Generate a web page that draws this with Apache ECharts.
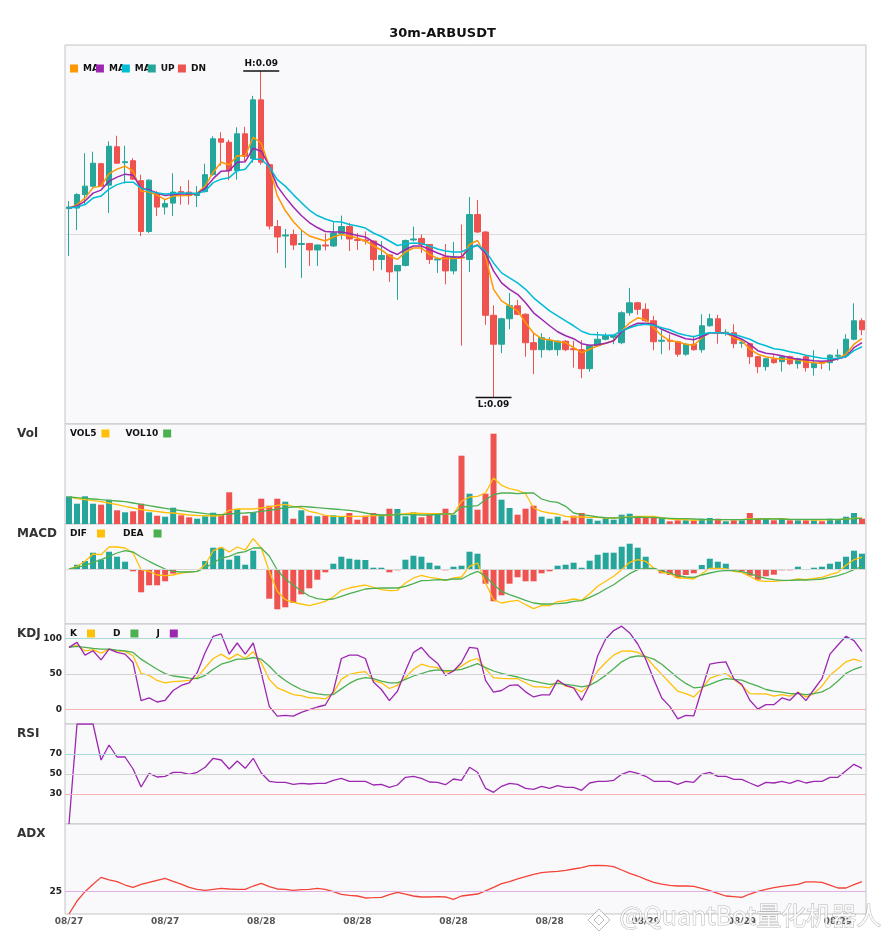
<!DOCTYPE html>
<html>
<head>
<meta charset="utf-8">
<title>30m-ARBUSDT</title>
<script src="https://cdn.jsdelivr.net/npm/echarts@6/dist/echarts.min.js"></script>
<style>
  html, body { margin: 0; padding: 0; background: #fff; }
  #main { width: 885px; height: 950px; }
</style>
</head>
<body>
<div id="main"></div>
<script>
var FONT = 'DejaVu Sans';
var UP_COLOR = '#26a69a';
var DN_COLOR = '#ef5350';

// 30m bars, first one 08/27 14:00
var times = [];
var start = new Date(2023, 7, 27, 14, 0);
for (var t = 0; t < 100; t++) {
  var d = new Date(start.getTime() + t * 30 * 60 * 1000);
  var pad = function (n) { return (n < 10 ? '0' : '') + n; };
  times.push(pad(d.getMonth() + 1) + '/' + pad(d.getDate()) + ' ' + pad(d.getHours()) + ':' + pad(d.getMinutes()));
}

var opens = [0.09172,0.09173,0.09200,0.09217,0.09262,0.09219,0.09296,0.09264,0.09268,0.09228,
  0.09126,0.09203,0.09175,0.09183,0.09206,0.09205,0.09198,0.09206,0.09240,0.09312,
  0.09305,0.09248,0.09322,0.09272,0.09390,0.09260,0.09136,0.09117,0.09120,0.09100,
  0.09102,0.09089,0.09099,0.09097,0.09122,0.09136,0.09110,0.09109,0.09107,0.09070,
  0.09079,0.09047,0.09058,0.09109,0.09112,0.09100,0.09069,0.09075,0.09047,0.09075,
  0.09070,0.09160,0.09125,0.08958,0.08900,0.08951,0.08977,0.08960,0.08903,0.08889,
  0.08889,0.08889,0.08906,0.08891,0.08889,0.08851,0.08897,0.08910,0.08914,0.08903,
  0.08963,0.08983,0.08970,0.08947,0.08906,0.08908,0.08905,0.08880,0.08900,0.08889,
  0.08937,0.08951,0.08922,0.08923,0.08902,0.08901,0.08875,0.08855,0.08870,0.08865,
  0.08875,0.08861,0.08875,0.08853,0.08864,0.08863,0.08876,0.08877,0.08910,0.08947];
var closes = [0.09175,0.09200,0.09217,0.09263,0.09217,0.09297,0.09263,0.09266,0.09231,0.09126,
  0.09229,0.09175,0.09182,0.09205,0.09204,0.09198,0.09203,0.09240,0.09312,0.09305,
  0.09248,0.09322,0.09277,0.09390,0.09265,0.09137,0.09115,0.09119,0.09099,0.09102,
  0.09089,0.09099,0.09097,0.09123,0.09136,0.09111,0.09108,0.09107,0.09070,0.09078,
  0.09045,0.09058,0.09108,0.09111,0.09100,0.09070,0.09071,0.09047,0.09075,0.09073,
  0.09160,0.09125,0.08958,0.08900,0.08951,0.08977,0.08960,0.08903,0.08889,0.08913,
  0.08907,0.08906,0.08889,0.08889,0.08851,0.08897,0.08910,0.08917,0.08918,0.08963,
  0.08983,0.08970,0.08947,0.08905,0.08908,0.08906,0.08880,0.08900,0.08889,0.08937,
  0.08951,0.08923,0.08924,0.08901,0.08904,0.08875,0.08855,0.08871,0.08863,0.08875,
  0.08861,0.08871,0.08853,0.08862,0.08862,0.08878,0.08878,0.08910,0.08947,0.08929];
var lows = [0.09077,0.09129,0.09180,0.09215,0.09216,0.09163,0.09262,0.09222,0.09230,0.09117,
  0.09123,0.09157,0.09160,0.09157,0.09180,0.09180,0.09175,0.09204,0.09238,0.09258,
  0.09229,0.09230,0.09266,0.09264,0.09260,0.09130,0.09083,0.09053,0.09089,0.09033,
  0.09057,0.09057,0.09088,0.09095,0.09110,0.09087,0.09089,0.09100,0.09047,0.09049,
  0.09025,0.08989,0.09056,0.09106,0.09083,0.09061,0.09043,0.09020,0.09040,0.08897,
  0.09045,0.09123,0.08939,0.08793,0.08882,0.08930,0.08958,0.08875,0.08840,0.08873,
  0.08887,0.08877,0.08886,0.08853,0.08832,0.08845,0.08895,0.08908,0.08900,0.08900,
  0.08957,0.08959,0.08945,0.08888,0.08880,0.08888,0.08875,0.08877,0.08887,0.08883,
  0.08935,0.08901,0.08917,0.08892,0.08893,0.08860,0.08842,0.08847,0.08861,0.08845,
  0.08858,0.08851,0.08845,0.08837,0.08850,0.08847,0.08867,0.08875,0.08908,0.08918];
var highs = [0.09187,0.09203,0.09283,0.09286,0.09263,0.09307,0.09318,0.09298,0.09273,0.09240,
  0.09231,0.09207,0.09190,0.09243,0.09217,0.09229,0.09217,0.09262,0.09317,0.09325,
  0.09310,0.09335,0.09336,0.09398,0.09448,0.09262,0.09149,0.09131,0.09130,0.09130,
  0.09103,0.09100,0.09122,0.09145,0.09158,0.09143,0.09123,0.09126,0.09108,0.09107,
  0.09080,0.09059,0.09110,0.09136,0.09120,0.09101,0.09074,0.09101,0.09105,0.09140,
  0.09195,0.09189,0.09127,0.08978,0.08953,0.09003,0.08989,0.08962,0.08922,0.08922,
  0.08914,0.08908,0.08908,0.08907,0.08908,0.08899,0.08925,0.08922,0.08919,0.08966,
  0.09013,0.08985,0.08982,0.08957,0.08930,0.08920,0.08907,0.08902,0.08917,0.08960,
  0.08961,0.08959,0.08930,0.08940,0.08910,0.08903,0.08876,0.08873,0.08878,0.08877,
  0.08877,0.08873,0.08877,0.08888,0.08866,0.08880,0.08890,0.08920,0.08982,0.08952];

var ma5 = [0.09173,0.09180,0.09193,0.09214,0.09217,0.09242,0.09251,0.09257,0.09247,0.09207,
  0.09205,0.09199,0.09190,0.09197,0.09198,0.09198,0.09203,0.09217,0.09245,0.09265,
  0.09260,0.09278,0.09278,0.09315,0.09303,0.09257,0.09198,0.09168,0.09146,0.09129,
  0.09117,0.09112,0.09107,0.09115,0.09120,0.09117,0.09113,0.09107,0.09097,0.09089,
  0.09077,0.09070,0.09085,0.09093,0.09093,0.09080,0.09072,0.09072,0.09072,0.09073,
  0.09100,0.09108,0.09077,0.09010,0.08987,0.08977,0.08967,0.08943,0.08922,0.08911,
  0.08909,0.08905,0.08903,0.08893,0.08883,0.08890,0.08897,0.08902,0.08907,0.08927,
  0.08943,0.08953,0.08949,0.08933,0.08917,0.08907,0.08905,0.08900,0.08898,0.08913,
  0.08923,0.08923,0.08923,0.08913,0.08907,0.08890,0.08880,0.08875,0.08872,0.08870,
  0.08870,0.08869,0.08865,0.08863,0.08862,0.08867,0.08871,0.08880,0.08900,0.08911];
var ma10 = [0.09173,0.09177,0.09187,0.09203,0.09209,0.09227,0.09235,0.09241,0.09239,0.09213,
  0.09210,0.09203,0.09198,0.09200,0.09201,0.09201,0.09202,0.09213,0.09232,0.09247,
  0.09248,0.09265,0.09266,0.09293,0.09287,0.09258,0.09217,0.09195,0.09175,0.09158,
  0.09144,0.09134,0.09126,0.09125,0.09125,0.09122,0.09118,0.09115,0.09105,0.09097,
  0.09087,0.09080,0.09090,0.09097,0.09097,0.09090,0.09083,0.09077,0.09075,0.09075,
  0.09093,0.09099,0.09082,0.09047,0.09023,0.09010,0.09000,0.08983,0.08963,0.08950,
  0.08937,0.08925,0.08917,0.08911,0.08901,0.08898,0.08899,0.08902,0.08907,0.08925,
  0.08935,0.08942,0.08942,0.08940,0.08930,0.08923,0.08917,0.08911,0.08909,0.08915,
  0.08923,0.08923,0.08922,0.08917,0.08910,0.08900,0.08887,0.08882,0.08880,0.08877,
  0.08873,0.08870,0.08869,0.08867,0.08866,0.08867,0.08871,0.08875,0.08893,0.08903];
var ma20 = [0.09173,0.09175,0.09180,0.09193,0.09197,0.09211,0.09220,0.09225,0.09225,0.09213,
  0.09207,0.09203,0.09201,0.09202,0.09203,0.09203,0.09202,0.09207,0.09224,0.09231,
  0.09234,0.09248,0.09251,0.09271,0.09271,0.09256,0.09230,0.09217,0.09200,0.09184,
  0.09169,0.09158,0.09151,0.09146,0.09145,0.09140,0.09137,0.09133,0.09123,0.09116,
  0.09107,0.09098,0.09101,0.09103,0.09102,0.09097,0.09091,0.09087,0.09085,0.09085,
  0.09093,0.09098,0.09087,0.09063,0.09043,0.09033,0.09023,0.09010,0.08993,0.08980,
  0.08967,0.08957,0.08947,0.08937,0.08926,0.08920,0.08919,0.08918,0.08918,0.08927,
  0.08933,0.08938,0.08940,0.08938,0.08933,0.08929,0.08922,0.08918,0.08915,0.08920,
  0.08923,0.08923,0.08922,0.08920,0.08915,0.08910,0.08902,0.08897,0.08891,0.08889,
  0.08885,0.08882,0.08878,0.08875,0.08872,0.08871,0.08872,0.08875,0.08887,0.08895];

// volume, in thousands
var vols = [27.7,20.3,27.7,20.3,19.3,24.3,13.7,11.7,12.7,20.3,
  11.7,8.3,7.3,16.3,8.7,6.7,5.3,7.7,11.3,9,
  31.7,15,8.3,11.7,25.3,18.3,25.3,22.3,5.3,13.7,
  8.3,7.7,8.3,8.7,7.7,11,4.3,8.3,11,9.3,
  15.3,15,7.7,11.7,6.7,9.3,11,15.3,9.3,68.3,
  30.3,14.3,30.3,90.3,24.3,16,9.3,15.3,18.3,7.3,
  5.3,7.3,3.3,8.3,11,5.3,3.3,6.7,4.3,9.3,
  10.3,6.7,6.7,7.7,6.7,2.7,3.7,3.7,3.7,5.3,
  6,5.3,2.7,3.7,3.7,11,6,6,3.7,6,
  3.7,3.7,3.7,3.7,2.7,5.3,4.3,7.3,11,5.3];
var vol5 = [27,25.3,24.3,23.3,22.3,21,19.3,17.7,16,14.3,
  13.5,12.5,11.5,11,10,9,8.5,8.3,8,8.3,
  13.7,15,15,15,16,17,18.7,19.7,17.7,16,
  12.7,11,8.7,7.7,7.7,7.7,7.7,7.7,8.3,8.3,
  9,9.7,10.3,11,10.7,10.3,10.3,10,10,22.7,
  27,27.7,31,46,38.7,35.3,33.7,30.3,16,12.7,
  11,10,7.7,7,7,6.7,6.7,6,6,6.7,
  7,7.7,7.7,7.7,6,5,4.3,4.3,3.7,4.3,
  4.3,4.3,4.3,4.3,4.3,5.3,5.3,5.3,5.3,5.3,
  4.7,4.3,4.3,4,4,4.3,4.3,5,5.7,6];
var vol10 = [27,26.3,25.7,25,24.3,23.7,23,22.3,21,19.7,
  18.3,17,15.7,14.3,13.3,12.3,11.3,10.3,9.7,9.3,
  10,10.7,11,11.7,12.7,13.7,15,16.3,17,17.7,
  17,16.3,15.7,15,14.3,13.7,12.7,11,9.7,9,
  9,9.3,9.3,9.3,9,9,9.7,10,10.3,17,
  17.7,18.3,24.3,29.3,31,31,30.3,31,31,25,
  22.7,21.7,17.7,11,9.3,8.3,7,6.3,6,6.3,
  6.7,7,6.7,6.7,6,5.7,5.3,5.3,5,4.7,
  4.3,4.3,4.3,4.3,4.3,4.7,5,5,5,5,
  4.7,4.7,4.7,4.7,4.7,4.7,4.7,5,5.3,5.7];

// MACD, in units of 1e-6
var macdHist = [0,4.3,8,16.3,9.3,17.3,12.3,7.3,-2.3,-23.3,
  -16.3,-16.3,-12.3,-4.7,-0.7,-0.7,-0.7,8,21.3,21.3,
  9.3,13.3,4.3,18.3,-0.3,-29.7,-40.3,-38.3,-34,-25.3,
  -19.3,-10.7,-3.3,5.3,12.3,10.3,9.3,9,1.3,1.3,
  -3.3,-1.3,9.3,13.3,12.3,6.3,3.3,-1.3,2.3,3.3,
  17.3,15.3,-14.7,-32.3,-26.3,-14.7,-8.3,-12.3,-12.3,-4.3,
  -2.3,3.3,4.3,6.3,1.3,8.3,14.3,16.3,16.3,22.3,
  25.3,21.3,12.3,0.3,-4.3,-6,-9,-6,-4.3,4,
  10.3,7.3,5.3,-1.3,-2.3,-6.7,-10.7,-7.3,-5.7,-1.3,
  -1.3,2.3,0,1.3,2.3,5.3,7.3,12.3,18.3,15.3];
var dif = [0,2.7,7.7,15,14.3,22,22,21,16,-0.7,
  -2.3,-6,-6.7,-6,-4,-3,-2.3,4.3,18.3,21.7,
  17,22,19,30.3,21,-2.3,-22.3,-30.7,-33.3,-35,
  -36.7,-34.7,-32.3,-28,-21.3,-19,-17.3,-16,-18.3,-20.7,
  -21.7,-21.3,-14,-9,-6.3,-8.3,-9.3,-11.3,-9,-8,
  2.7,6,-14,-30.7,-34,-32.3,-31.3,-35.7,-39.7,-36.7,
  -36.7,-32.7,-31.7,-30,-31.3,-24.7,-17.3,-12.3,-7.3,-0.7,
  6.7,9.3,7.7,1,-3.3,-4.7,-9,-9,-10,-4.7,
  0.7,0.7,0.3,-2.3,-3.3,-7.3,-11.7,-12.3,-12.3,-11.7,
  -11.3,-10,-10.7,-9.3,-8.3,-5.7,-3.3,3.7,9.3,11.7];
var dea = [0,1.7,3.7,6.7,9.3,12.7,16,18.3,17,12,
  7.7,3.7,0,-2.3,-3,-3,-2.3,1,6,11,
  12.7,16,17.3,21,21,13,-1,-10,-16,-22,
  -27,-29.7,-30.7,-30,-27.3,-24.7,-22.3,-20,-19.3,-19,
  -19,-19,-17.3,-14.7,-11.7,-11.3,-10.7,-11,-10,-10,
  -5.7,-2.3,-7.3,-15.7,-22.3,-25.7,-28.3,-31.3,-34,-35,
  -35,-34.7,-34,-32.3,-31.7,-28.3,-24.7,-20,-15.7,-10,
  -4.7,-0.7,0.7,0.7,-1.7,-4,-6.7,-8,-8.3,-6,
  -4,-2.3,-1.3,-1.7,-2.7,-4.7,-7.3,-9.3,-10.7,-11.3,
  -11.3,-11,-11,-10.7,-10,-8.3,-6.7,-4,-0.7,2.7];

var kList = [87.3,90.6,82.5,84,79.2,84.9,82.5,81.6,75.5,50.9,
  48.1,41,37.7,39.2,40.1,41,44.8,59,71.7,77.8,
  70.8,77.8,71.7,81.1,66,42.5,30.7,25.9,21.2,19.8,
  16.5,16.5,15.1,23.6,42.5,49.5,51.9,53.3,41,37.7,
  29.7,34,44.8,56.6,63.7,60.4,59,52.8,54.2,61.3,
  68.4,71.7,57.5,44.8,43.9,43.4,43.4,37.7,32.1,32.1,
  30.7,40.1,33,30.7,25,35.4,54.2,66,76.4,82.1,
  82.5,80.2,74.5,61.3,49.5,37.7,25.9,22.6,17.9,29.2,
  43.9,48.1,50.5,42.5,34,22.6,22.2,22.2,18.9,21.2,
  18.9,24.5,17.9,22.6,33,48.1,57.5,67,70.8,67.5];
var dList = [87.3,88.7,87.3,85.8,84.9,84.9,83.5,82.5,80.2,70.8,
  63.7,56.6,50.5,47.2,45.8,44.3,43.4,48.1,56.6,63.7,
  67,70.8,70.8,73.1,70.8,61.3,49.5,41,34,28.3,
  24.5,22.2,20.8,21.2,29.2,36.8,42.5,44.8,43.4,40.1,
  37.7,37.7,42.5,47.2,50.5,54.2,55.7,54.7,55.2,56.6,
  60.4,64.6,59,54.2,50.9,48.1,45.8,42.5,40.1,37.7,
  35.4,36.8,35.4,34,32.1,34,40.1,48.1,57.5,67,
  73.1,75.5,74.5,70.8,63.7,54.2,44.8,36.8,30.7,31.6,
  35.4,40.1,43.4,42.5,41.5,36.8,33,28.3,25.9,24.5,
  22.6,22.6,21.2,22.6,25,30.7,40.1,50.9,56.6,60.4];
var jList = [87.3,94.3,76.4,82.5,69.8,84.9,80.2,77.8,66,12.7,
  16.5,10.8,13.2,26.9,34,37.7,51.9,80.2,102.8,106.1,
  77.8,93.4,77.8,93.4,51.9,4.7,-9,-8,-9,-3.8,
  0,3.8,6.6,25.9,71.7,76.4,76.4,71.7,38.7,28.3,
  12.7,25.9,54.2,80.2,87.3,74.1,65.1,48.1,54.2,66,
  87.3,85.8,41,24.5,26.9,34,34.9,25,17.9,20.8,
  20.8,41.5,34,30.7,13.2,35.4,75.5,99.1,110.8,117,
  107.5,92,70.8,42.5,16.5,4.7,-12.7,-8,-8.5,28.3,
  63.7,66,67,43.4,35.4,13.2,0.9,7.1,7.1,16.5,
  13.2,24.5,12.7,28.3,43.4,77.8,90.6,102.8,96.7,81.6];

var rsi = [0,100,100,100,64,79,67,67,55,37,
  50.7,47,47.7,51.7,51.7,49.7,51.7,56.7,65.7,64,
  55,63,55.7,65.7,51,42.7,41.7,41.7,39.7,40.7,
  40,40.7,40.7,43.7,45.7,42.7,42.7,42.7,39,39.7,
  36.7,39,46.7,47.7,45.7,42,41.7,39.3,45,43.7,
  56.7,51.7,35.7,31.7,37.7,40.7,39.7,35.7,34.7,37.7,
  35.7,38.3,36.7,36.7,33.7,41,42.7,42.7,43.7,49.7,
  52.7,50.7,47.7,42.7,42.7,42.7,39.7,42.7,41.7,49.7,
  51.7,47.7,47.7,44.7,44.7,41,37.7,41.7,41,42.7,
  40.7,43.7,41,42.7,42.7,46.7,46.7,53.3,59.7,55.7];
var adx = [0,14.4,24.8,33,40.7,37.8,35.9,32.2,29.6,33,
  35.2,37.4,39.6,36.3,33.3,29.6,27.4,26.3,27.4,28.5,
  27.8,27.4,27.4,31.1,34.1,30.4,27.8,27.4,26.3,27,
  27.4,28.5,27.4,24.8,21.9,20.7,20,17.8,18.1,18.5,
  21.5,24.1,22.2,20,18.9,18.9,19.3,18.9,16.3,20,
  21.1,22.2,25.6,29.6,33.7,35.9,38.9,41.5,44.1,45.9,
  46.7,47.4,48.5,50,51.5,53.7,54.1,53.7,52.6,48.9,
  45.2,42.2,38.5,35.2,33.3,31.9,31.1,31.1,30.7,28.5,
  25.9,23,20,19.3,18.5,22.2,25.2,27.4,29.3,30.7,
  31.9,33,35.6,35.6,35.2,32.2,28.9,28.9,32.6,35.9];

// split candles into rising / falling series
var upData = [];
var dnData = [];
var hiIdx = 0, loIdx = 0;
for (var i = 0; i < opens.length; i++) {
  var item = [opens[i], closes[i], lows[i], highs[i]];
  var empty = ['-', '-', '-', '-'];
  if (closes[i] >= opens[i]) {
    upData.push(item); dnData.push(empty);
  } else {
    upData.push(empty); dnData.push(item);
  }
  if (highs[i] > highs[hiIdx]) hiIdx = i;
  if (lows[i] < lows[loIdx]) loIdx = i;
}

var grids = [
  { top: 45, height: 379 },
  { top: 424, height: 100 },
  { top: 524, height: 100 },
  { top: 624, height: 100 },
  { top: 724, height: 100 },
  { top: 824, height: 90 }
];

function makeGrid(g) {
  return {
    left: 65, right: 19, top: g.top, height: g.height,
    show: true, backgroundColor: '#f9f9fc', borderColor: '#c4c4c8', borderWidth: 1
  };
}

function makeXAxis(idx) {
  var last = idx === grids.length - 1;
  return {
    type: 'category', gridIndex: idx, data: times, boundaryGap: true,
    axisLine: { show: false }, axisTick: { show: false },
    splitLine: { show: false },
    axisLabel: {
      show: last, interval: 11, margin: 3,
      color: '#555', fontSize: 9, fontWeight: 'bold', fontFamily: FONT,
      formatter: function (v) { return v.slice(0, 5); }
    }
  };
}

function makeYAxis(idx, min, max, extra) {
  var axis = {
    type: 'value', gridIndex: idx, min: min, max: max, scale: true,
    axisLine: { show: false }, axisTick: { show: false },
    axisLabel: { show: false }, splitLine: { show: false }
  };
  for (var key in extra) axis[key] = extra[key];
  return axis;
}

function levelLines(levels) {
  return {
    silent: true, symbol: ['none', 'none'], animation: false,
    label: {
      show: true, position: 'start', distance: 3, formatter: '{c}',
      color: '#222', fontSize: 9, fontWeight: 'bold', fontFamily: FONT
    },
    data: levels.map(function (lv) {
      return { yAxis: lv[0], lineStyle: { color: lv[1], width: 1, type: 'solid' } };
    })
  };
}

function lineSeries(name, data, color, xi, width) {
  return {
    name: name, type: 'line', data: data, xAxisIndex: xi, yAxisIndex: xi,
    symbol: 'none', smooth: false,
    lineStyle: { color: color, width: width || 1.3 },
    itemStyle: { color: color }
  };
}

function panelTitle(text, top) {
  return {
    text: text, left: 17, top: top, padding: 0,
    textStyle: { fontSize: 12, fontWeight: 'bold', color: '#333', fontFamily: FONT }
  };
}

var legendText = { fontSize: 9, fontWeight: 'bold', color: '#111', fontFamily: FONT };

function smallLegend(top, gap, names, textPad) {
  var ts = { padding: textPad };
  for (var key in legendText) ts[key] = legendText[key];
  return {
    left: 70, top: top, padding: 0, icon: 'rect', itemWidth: 8, itemHeight: 8,
    itemGap: gap, align: 'right', textStyle: ts, data: names,
    itemStyle: { borderWidth: 0 }
  };
}

var ma5Series = lineSeries('MA5', ma5, '#ff9800', 0, 1.5);
var ma10Series = lineSeries('MA10', ma10, '#9c27b0', 0, 1.5);
var ma20Series = lineSeries('MA20', ma20, '#00bcd4', 0, 1.5);

var kSeries = lineSeries('K', kList, '#ffc107', 3);
kSeries.markLine = levelLines([[100, '#a9d9d6'], [50, '#d2d2d2'], [0, '#f7b4b4']]);
var rsiSeries = lineSeries('RSI', rsi, '#9c27b0', 4);
rsiSeries.markLine = levelLines([[70, '#a9d9d6'], [50, '#d2d2d2'], [30, '#f7b4b4']]);
var adxSeries = lineSeries('ADX', adx, '#f44336', 5);
adxSeries.markLine = levelLines([[25, '#dfb2e6']]);

var chart = echarts.init(document.getElementById('main'));
var option = {
  animation: false,
  backgroundColor: '#ffffff',
  title: [
    { text: '30m-ARBUSDT', left: 'center', top: 27, padding: 0,
      textStyle: { fontSize: 13, fontWeight: 'bold', color: '#111', fontFamily: FONT } },
    panelTitle('Vol', 428),
    panelTitle('MACD', 528),
    panelTitle('KDJ', 628),
    panelTitle('RSI', 728),
    panelTitle('ADX', 828)
  ],
  legend: [
    {
      left: 70, top: 64, padding: 0, icon: 'rect', itemWidth: 8, itemHeight: 8, itemGap: -3,
      textStyle: legendText,
      itemStyle: { borderWidth: 0 },
      formatter: function (name) {
        if (name.indexOf('MA') === 0) return 'MA';
        return name === 'UP' ? 'UP  ' : name;
      },
      data: ['MA5', 'MA10', 'MA20', 'UP', 'DN']
    },
    smallLegend(429, 16, ['VOL5', 'VOL10'], 0),
    smallLegend(529, 18, ['DIF', 'DEA'], [0, 5, 0, 0]),
    smallLegend(629, 18, ['K', 'D', 'J'], [0, 5, 0, 0])
  ],
  grid: grids.map(makeGrid),
  xAxis: grids.map(function (g, idx) { return makeXAxis(idx); }),
  yAxis: [
    makeYAxis(0, 0.0874, 0.0950, {
      interval: 0.0038,
      splitLine: { show: true, lineStyle: { color: '#dcdcdc', width: 1 } }
    }),
    makeYAxis(1, 0, 100),
    makeYAxis(2, -55, 45),
    makeYAxis(3, -20, 120),
    makeYAxis(4, 0, 100),
    makeYAxis(5, 0, 100)
  ],
  graphic: [
    {
      type: 'polygon', silent: true, z: 100,
      shape: { points: [[599, 909], [610, 920], [599, 931], [588, 920]] },
      style: { fill: 'rgba(255,255,255,0.85)', stroke: 'rgba(130,130,130,0.55)', lineWidth: 1 }
    },
    {
      type: 'polygon', silent: true, z: 100,
      shape: { points: [[599, 915], [604, 920], [599, 925], [594, 920]] },
      style: { fill: 'rgba(255,255,255,0.85)', stroke: 'rgba(130,130,130,0.55)', lineWidth: 1 }
    },
    {
      type: 'text', left: 619, top: 902, silent: true, z: 100,
      style: {
        text: '@QuantBot量化机器人', fontSize: 25,
        fontFamily: '"Noto Sans CJK SC", "DejaVu Sans"',
        fill: 'rgba(255,255,255,0.85)', stroke: 'rgba(130,130,130,0.55)', lineWidth: 1
      }
    }
  ],
  series: [
    {
      name: 'UP', type: 'candlestick', data: upData, xAxisIndex: 0, yAxisIndex: 0,
      barWidth: 6,
      itemStyle: { color: UP_COLOR, color0: UP_COLOR, borderColor: UP_COLOR, borderColor0: UP_COLOR, borderWidth: 1 },
      markPoint: {
        symbol: 'rect', symbolSize: [36, 1.5], silent: true, animation: false,
        itemStyle: { color: '#111' },
        label: {
          show: true, formatter: '{b}', distance: 2,
          color: '#111', fontSize: 9, fontWeight: 'bold', fontFamily: FONT
        },
        data: [
          { name: 'H:' + highs[hiIdx].toFixed(2), coord: [hiIdx, highs[hiIdx]], label: { position: 'top' } },
          { name: 'L:' + lows[loIdx].toFixed(2), coord: [loIdx, lows[loIdx]], label: { position: 'bottom' } }
        ]
      }
    },
    {
      name: 'DN', type: 'candlestick', data: dnData, xAxisIndex: 0, yAxisIndex: 0,
      barWidth: 6,
      itemStyle: { color: DN_COLOR, color0: DN_COLOR, borderColor: DN_COLOR, borderColor0: DN_COLOR, borderWidth: 1 }
    },
    ma5Series,
    ma10Series,
    ma20Series,
    {
      name: 'VOL', type: 'bar', data: vols, xAxisIndex: 1, yAxisIndex: 1, barWidth: 6,
      itemStyle: {
        color: function (p) { return closes[p.dataIndex] >= opens[p.dataIndex] ? UP_COLOR : DN_COLOR; }
      }
    },
    lineSeries('VOL5', vol5, '#ffc107', 1),
    lineSeries('VOL10', vol10, '#4caf50', 1),
    {
      name: 'MACD', type: 'bar', data: macdHist, xAxisIndex: 2, yAxisIndex: 2, barWidth: 6,
      itemStyle: {
        color: function (p) { return p.value >= 0 ? UP_COLOR : DN_COLOR; }
      },
      markLine: {
        silent: true, symbol: ['none', 'none'], animation: false, label: { show: false },
        lineStyle: { color: '#d8d8d8', width: 1, type: 'solid' },
        data: [{ yAxis: 0 }]
      }
    },
    lineSeries('DIF', dif, '#ffc107', 2),
    lineSeries('DEA', dea, '#4caf50', 2),
    kSeries,
    lineSeries('D', dList, '#4caf50', 3),
    lineSeries('J', jList, '#9c27b0', 3),
    rsiSeries,
    adxSeries
  ]
};
chart.setOption(option);
</script>
</body>
</html>
